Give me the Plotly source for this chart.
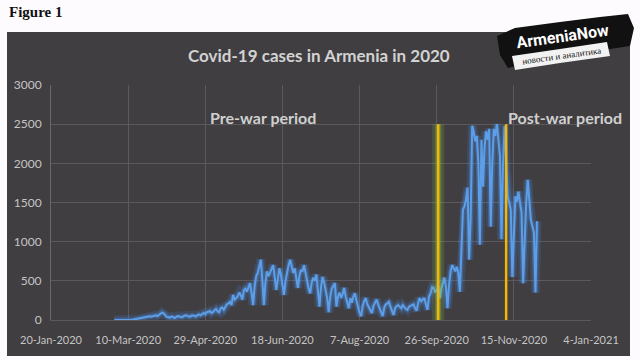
import pandas as pd
import plotly.graph_objects as go

# ---------------- data ----------------
start_date = "2020-03-01"
mar = [1, 0, 0, 0, 0, 0, 0, 0, 0, 0, 0, 0, 4, 6, 8, 12, 15, 20, 24, 30, 35, 40, 45, 48, 42, 50, 55, 60, 50, 65, 70]
apr = [95, 85, 60, 40, 35, 30, 45, 40, 25, 35, 50, 45, 40, 35, 50, 60, 55, 45, 40, 55, 60, 50, 45, 65, 70, 60, 80, 90, 75, 100]
may = [105, 115, 90, 100, 125, 140, 110, 100, 150, 160, 130, 170, 200, 210, 230, 190, 320, 260, 280, 300, 350, 320, 260, 380, 400, 360, 420, 470, 350, 190, 430]
jun = [560, 600, 680, 770, 500, 190, 480, 620, 560, 600, 650, 700, 550, 385, 520, 660, 580, 450, 320, 500, 620, 700, 770, 680, 600, 660, 520, 410, 560, 640]
jul = [620, 700, 600, 480, 400, 340, 480, 540, 500, 580, 380, 170, 420, 550, 480, 400, 280, 100, 300, 400, 440, 470, 170, 300, 350, 280, 330, 410, 300, 240, 150]
aug = [280, 220, 300, 340, 250, 150, 90, 50, 180, 240, 280, 200, 160, 120, 90, 180, 230, 260, 200, 150, 100, 50, 160, 200, 210, 230, 170, 110, 65, 150, 180]
sep = [190, 170, 150, 190, 160, 140, 130, 170, 180, 190, 200, 150, 120, 220, 280, 240, 260, 280, 200, 130, 300, 340, 420, 410, 360, 380, 420, 280, 400, 460]
oct_ = [540, 420, 150, 450, 620, 700, 650, 620, 680, 600, 360, 1000, 1410, 1450, 1540, 1690, 770, 1300, 2480, 2400, 2280, 2350, 2000, 960, 2300, 1700, 2200, 2410, 2300, 2440, 1190]
nov = [2000, 2440, 2350, 2500, 2300, 2100, 1030, 2000, 2480, 2000, 1580, 1500, 1410, 550, 1200, 1580, 1510, 1640, 1500, 1370, 470, 1100, 1500, 1790, 1500, 1280, 1200, 1120, 350, 1260]

cases = mar + apr + may + jun + jul + aug + sep + oct_ + nov
dates = pd.date_range(start_date, periods=len(cases), freq="D")

war_start = "2020-09-27"
ceasefire = "2020-11-10"
marker_top = 2500

x_tick0 = "2020-01-20"
x_end = "2021-01-04"
tick_step_days = 50
y_max = 3000

title_text = "Covid-19 cases in Armenia in 2020"
label_pre = "Pre-war period"
label_post = "Post-war period"

# ---------------- styling ----------------
W, H = 640, 360
L, R, T, B = 51, 591, 85, 320
panel = "#403e41"
txt = "#c4c4c4"
grid = "#5b595c"


def px(x, y):
    """screen pixel -> paper coords"""
    return (x - L) / (R - L), (B - y) / (B - T)


fig = go.Figure()

# glow
fig.add_trace(go.Scatter(x=dates, y=cases, mode="lines",
                         line=dict(color="rgba(70,140,230,0.18)", width=9),
                         hoverinfo="skip", showlegend=False))
fig.add_trace(go.Scatter(x=dates, y=cases, mode="lines",
                         line=dict(color="rgba(80,150,240,0.3)", width=5),
                         hoverinfo="skip", showlegend=False))
fig.add_trace(go.Scatter(x=dates, y=cases, mode="lines",
                         line=dict(color="#5c9fe8", width=2),
                         showlegend=False))

# war markers
fig.add_trace(go.Scatter(x=[war_start, war_start], y=[0, marker_top], mode="lines",
                         line=dict(color="rgba(150,200,60,0.18)", width=12),
                         hoverinfo="skip", showlegend=False))
fig.add_trace(go.Scatter(x=[war_start, war_start], y=[0, marker_top], mode="lines",
                         line=dict(color="rgba(160,210,70,0.3)", width=6),
                         hoverinfo="skip", showlegend=False))
for d in (war_start, ceasefire):
    fig.add_trace(go.Scatter(x=[d, d], y=[0, marker_top], mode="lines",
                             line=dict(color="#f2b705", width=2.5),
                             showlegend=False))

shapes = []
# dark panel
x0, y0 = px(7, 356)
x1, y1 = px(630, 32)
shapes.append(dict(type="rect", xref="paper", yref="paper", x0=x0, y0=y0, x1=x1, y1=y1,
                   fillcolor=panel, line=dict(width=0), layer="below"))


def poly(points, fill):
    pts = [px(a, b) for a, b in points]
    path = "M " + " L ".join(f"{a:.4f},{b:.4f}" for a, b in pts) + " Z"
    return dict(type="path", xref="paper", yref="paper", path=path,
                fillcolor=fill, line=dict(width=0), layer="above")


# logo
shapes.append(poly([(497, 36), (515, 28), (560, 22), (600, 17), (628, 14), (634, 28), (630, 46),
                    (590, 52), (540, 60), (508, 68), (500, 55)], "#111111"))
shapes.append(poly([(512, 56), (560, 49), (607, 42), (610, 56), (560, 63), (515, 70)], "#f2f2f2"))

annotations = [
    dict(text="<b>Figure 1</b>", xref="paper", yref="paper", x=px(7, 0)[0], y=px(0, 2)[1],
         xanchor="left", yanchor="top", showarrow=False,
         font=dict(family="Liberation Serif", size=15, color="#111111")),
    dict(text=f"<b>{title_text}</b>", xref="paper", yref="paper", x=px(319, 0)[0], y=px(0, 56)[1],
         xanchor="center", yanchor="middle", showarrow=False,
         font=dict(family="Lato", size=17, color="#d2d2d2")),
    dict(text=f"<b>{label_pre}</b>", xref="paper", yref="paper", x=px(263, 0)[0], y=px(0, 117)[1],
         xanchor="center", yanchor="middle", showarrow=False,
         font=dict(family="Lato", size=16, color="#d0d0d0")),
    dict(text=f"<b>{label_post}</b>", xref="paper", yref="paper", x=px(565, 0)[0], y=px(0, 117)[1],
         xanchor="center", yanchor="middle", showarrow=False,
         font=dict(family="Lato", size=16, color="#d0d0d0")),
    dict(text="<b>ArmeniaNow</b>", xref="paper", yref="paper", x=px(562, 0)[0], y=px(0, 36)[1],
         xanchor="center", yanchor="middle", showarrow=False, textangle=-8,
         font=dict(family="Liberation Sans Narrow, Roboto", size=16, color="#ffffff")),
    dict(text="новости и аналитика", xref="paper", yref="paper", x=px(561, 0)[0], y=px(0, 56)[1],
         xanchor="center", yanchor="middle", showarrow=False, textangle=-8,
         font=dict(family="Liberation Serif", size=9, color="#111111")),
]

fig.update_layout(
    width=W, height=H,
    margin=dict(l=L, r=W - R, t=T, b=H - B),
    paper_bgcolor="#fdfbfd",
    plot_bgcolor=panel,
    shapes=shapes,
    annotations=annotations,
    showlegend=False,
    font=dict(family="Lato", color=txt, size=11),
)
fig.update_xaxes(type="date", range=[x_tick0, x_end], tick0=x_tick0,
                 dtick=tick_step_days * 86400000, tickformat="%-d-%b-%Y",
                 showgrid=True, gridcolor=grid, gridwidth=1,
                 showline=True, linecolor=grid, zeroline=False,
                 ticks="", ticklabelstandoff=10, tickfont=dict(size=11, color=txt))
fig.update_yaxes(range=[0, y_max], dtick=500, showgrid=True, gridcolor=grid,
                 showline=True, linecolor="#6a686b", zeroline=False,
                 ticks="", ticklabelstandoff=6, tickfont=dict(size=12, color=txt))

fig.write_html("out.html", config={"displayModeBar": False},
               post_script="document.body.style.margin='0';document.body.style.background='#fdfbfd';")
